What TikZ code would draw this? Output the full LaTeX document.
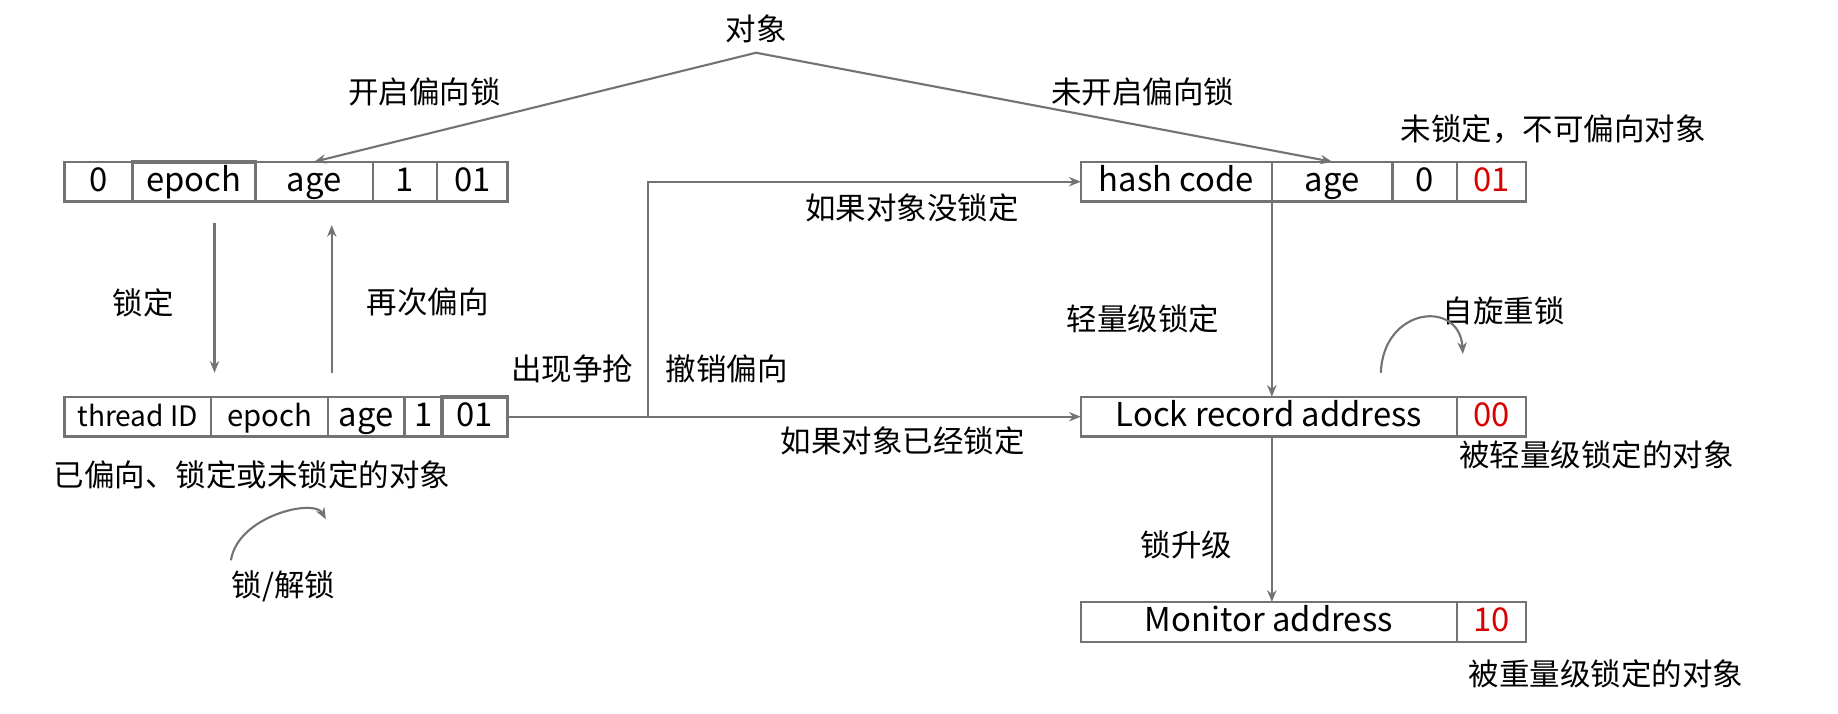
\documentclass[tikz,border=0pt]{standalone}
\usepackage{fontspec}
\setmainfont{Noto Sans CJK SC}
\usetikzlibrary{arrows.meta}
\begin{document}
\begin{tikzpicture}[x=0.5pt,y=-0.5pt,
  cell/.style={draw=black!55,line width=1pt,inner sep=0pt,outer sep=0pt,minimum height=17pt,text height=10.5pt,text depth=2pt,font=\fontsize{14}{16}\selectfont},
  lbl/.style={font=\fontsize{13}{15}\selectfont,inner sep=1pt},
  conn/.style={draw=black!55,line width=0.9pt,-{Stealth[length=5pt,width=4pt]}},
  line/.style={draw=black!55,line width=0.9pt}]
\useasboundingbox (0,0) rectangle (1568,609);
% top-left box
\node[cell,minimum width=29pt] (a1) at (84,155) {0};
\node[cell,minimum width=52.5pt,line width=1.5pt] (a2) at (165.5,155) {epoch};
\node[cell,minimum width=50pt] (a3) at (268,155) {age};
\node[cell,minimum width=27.5pt] (a4) at (345.5,155) {1};
\node[cell,minimum width=30pt] (a5) at (403,155) {01};
% biased box
\node[cell,minimum width=62.5pt,font=\fontsize{12}{14}\selectfont] (b1) at (117.5,355.5) {thread ID};
\node[cell,minimum width=50pt,font=\fontsize{12.5}{14}\selectfont] (b2) at (230,355.5) {epoch};
\node[cell,minimum width=32.5pt] (b3) at (312.5,355.5) {age};
\node[cell,minimum width=16pt] (b4) at (361,355.5) {1};
\node[cell,minimum width=28pt,line width=1.5pt] (b5) at (405,355.5) {01};
% hash box
\node[cell,minimum width=81.5pt] (h1) at (1003.5,155) {hash code};
\node[cell,minimum width=51.5pt] (h2) at (1136.5,155) {age};
\node[cell,minimum width=27.5pt] (h3) at (1215.5,155) {0};
\node[cell,minimum width=29.5pt,text=red!85!black] (h4) at (1272.5,155) {01};
% lock box
\node[cell,minimum width=160.5pt] (l1) at (1082.5,355.5) {Lock record address};
\node[cell,minimum width=29.5pt,text=red!85!black] (l2) at (1272.5,355.5) {00};
% monitor box
\node[cell,minimum width=160.5pt] (m1) at (1082.5,530.5) {Monitor address};
\node[cell,minimum width=29.5pt,text=red!85!black] (m2) at (1272.5,530.5) {10};
% labels
\node[lbl] (obj) at (645,25) {对象};
\coordinate (apex) at (645,45);
\node[lbl] at (362,78) {开启偏向锁};
\node[lbl] at (975,78) {未开启偏向锁};
\node[lbl] at (1325,110) {未锁定，不可偏向对象};
\node[lbl] at (122,258) {锁定};
\node[lbl] at (365,258) {再次偏向};
\node[lbl] at (215,405) {已偏向、锁定或未锁定的对象};
\node[lbl] at (242,500) {锁/解锁};
\node[lbl] at (488,315) {出现争抢};
\node[lbl] at (620,315) {撤销偏向};
\node[lbl] at (778,177) {如果对象没锁定};
\node[lbl] at (770,376) {如果对象已经锁定};
\node[lbl] at (975,272) {轻量级锁定};
\node[lbl] at (1283,265) {自旋重锁};
\node[lbl] at (1362,388) {被轻量级锁定的对象};
\node[lbl] at (1012,465) {锁升级};
\node[lbl] at (1370,575) {被重量级锁定的对象};
% connectors
\draw[conn] (apex) -- (a3.north);
\draw[conn] (apex) -- (h2.north);
\coordinate (d1) at (183,190); \coordinate (d2) at (183,318);
\coordinate (u1) at (283,318); \coordinate (u2) at (283,192);
\draw[conn] (d1) -- (d2);
\draw[conn] (u1) -- (u2);
\coordinate (sp) at (553,355.5);
\draw[line] (b5.east) -- (sp);
\draw[conn] (sp) -- (553,155) -- (h1.west);
\draw[conn] (sp) -- (l1.west);
\draw[conn] (h1.south east) -- (h1.south east |- l1.north);
\draw[conn] (h1.south east |- l1.south) -- (h1.south east |- m1.north);
\coordinate (c1) at (197,478); \coordinate (c2) at (278,443);
\draw[conn] (c1) .. controls (203,440) and (268,425) .. (c2);
\coordinate (s1) at (1178,318); \coordinate (s2) at (1248,302);
\draw[conn] (s1) .. controls (1180,262) and (1245,255) .. (s2);
\end{tikzpicture}
\end{document}
